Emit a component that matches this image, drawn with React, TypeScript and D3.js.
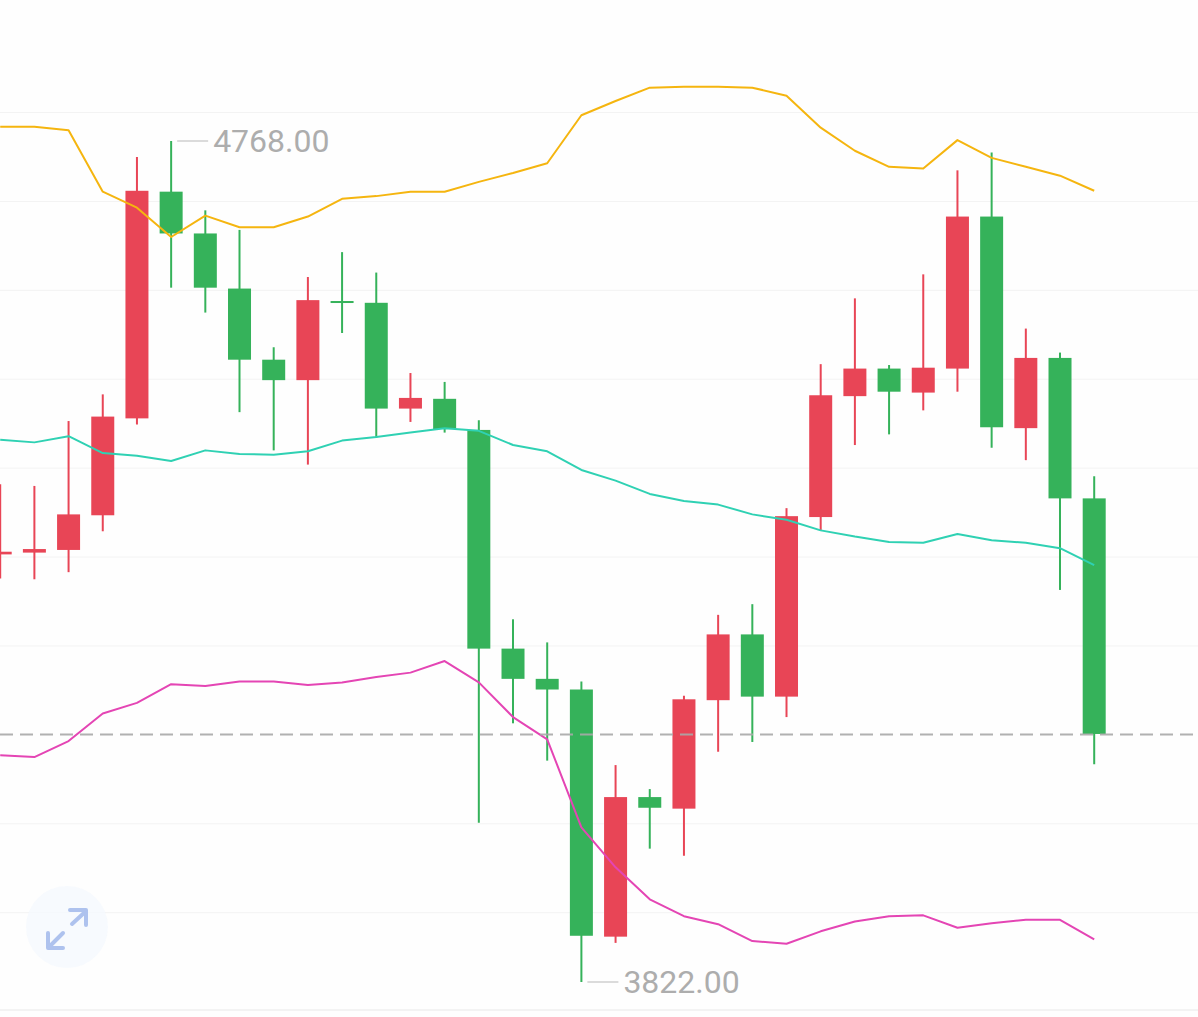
import { useEffect, useRef } from 'react';
import * as d3 from 'd3';

// prices, one entry per candle
const opens = [4303, 4305, 4308, 4347, 4456, 4711, 4664, 4602, 4522, 4499, 4588, 4586, 4467, 4478, 4443, 4197, 4163, 4151, 3873, 4030, 4017, 4139, 4213, 4143, 4345, 4481, 4512, 4485, 4512, 4683, 4445, 4524, 4366];
const closes = [4306, 4309, 4348, 4458, 4712, 4664, 4603, 4522, 4499, 4589, 4586, 4467, 4479, 4444, 4197, 4163, 4151, 3874, 4030, 4018, 4140, 4213, 4143, 4346, 4482, 4512, 4486, 4513, 4683, 4446, 4524, 4366, 4101];
const highs = [4382, 4380, 4453, 4483, 4750, 4768, 4690, 4668, 4536, 4615, 4643, 4620, 4507, 4497, 4454, 4230, 4204, 4160, 4066, 4039, 4144, 4235, 4247, 4355, 4517, 4591, 4516, 4618, 4735, 4755, 4557, 4530, 4391];
const lows = [4276, 4275, 4283, 4329, 4449, 4603, 4575, 4463, 4420, 4404, 4552, 4434, 4452, 4440, 4001, 4113, 4071, 3822, 3866, 3972, 3964, 4081, 4092, 4120, 4330, 4426, 4438, 4465, 4486, 4423, 4409, 4263, 4067];

// bollinger bands
const upperBand = [4784, 4784, 4780, 4711, 4693, 4660, 4684, 4671, 4671, 4683, 4703, 4706, 4711, 4711, 4722, 4732, 4743, 4797, 4813, 4828, 4829, 4829, 4828, 4819, 4783, 4757, 4739, 4737, 4769, 4749, 4739, 4729, 4712];
const midBand = [4432, 4429, 4436, 4417, 4414, 4408, 4420, 4416, 4415, 4419, 4431, 4435, 4440, 4445, 4442, 4426, 4419, 4398, 4386, 4371, 4363, 4359, 4348, 4342, 4330, 4323, 4317, 4316, 4326, 4319, 4316, 4310, 4291];
const lowerBand = [4077, 4075, 4093, 4124, 4136, 4157, 4155, 4160, 4160, 4156, 4159, 4165, 4170, 4183, 4159, 4120, 4095, 3996, 3951, 3915, 3896, 3887, 3868, 3865, 3879, 3890, 3896, 3897, 3883, 3888, 3892, 3892, 3870];

const gridPrices = [4800, 4700, 4600, 4500, 4400, 4300, 4200, 4000, 3900];
const lastPrice = 4100.5;
const maxIndex = 5;
const minIndex = 17;

const WIDTH = 1198;
const HEIGHT = 1017;
const UP = '#e84556';
const DOWN = '#35b25a';
const LABEL = '#adadad';

export default function App() {
  const svgRef = useRef<SVGSVGElement>(null);

  useEffect(() => {
    if (!svgRef.current) return;
    const svg = d3.select(svgRef.current);
    svg.selectAll('*').remove();

    const x = d3.scaleLinear().domain([0, opens.length - 1]).range([0.2, 1094.2]);
    const y = d3.scaleLinear().domain([4768, 3822]).range([141, 982]);
    const candles = d3.range(opens.length);

    // grid
    svg.append('g')
      .selectAll('line')
      .data(gridPrices)
      .enter()
      .append('line')
      .attr('x1', 0)
      .attr('x2', WIDTH)
      .attr('y1', d => y(d))
      .attr('y2', d => y(d))
      .attr('stroke', '#f3f3f3')
      .attr('stroke-width', 1);

    svg.append('line')
      .attr('x1', 0)
      .attr('x2', WIDTH)
      .attr('y1', 1010)
      .attr('y2', 1010)
      .attr('stroke', '#f3f3f3')
      .attr('stroke-width', 2);

    const color = (i: number) => (closes[i] > opens[i] ? UP : DOWN);

    // wicks
    svg.append('g')
      .selectAll('line')
      .data(candles)
      .enter()
      .append('line')
      .attr('x1', i => x(i))
      .attr('x2', i => x(i))
      .attr('y1', i => y(highs[i]))
      .attr('y2', i => y(lows[i]))
      .attr('stroke', color)
      .attr('stroke-width', 2);

    // bodies
    svg.append('g')
      .selectAll('rect')
      .data(candles)
      .enter()
      .append('rect')
      .attr('x', i => x(i) - 11.5)
      .attr('width', 23)
      .attr('y', i => y(Math.max(opens[i], closes[i])))
      .attr('height', i => Math.max(2, Math.abs(y(opens[i]) - y(closes[i]))))
      .attr('fill', color);

    const line = d3.line<number>().x((_, i) => x(i)).y(d => y(d));
    const bands: [number[], string][] = [
      [upperBand, '#f5b50f'],
      [midBand, '#2fd1b3'],
      [lowerBand, '#e445b4'],
    ];
    bands.forEach(([values, stroke]) => {
      svg.append('path')
        .attr('d', line(values))
        .attr('fill', 'none')
        .attr('stroke', stroke)
        .attr('stroke-width', 2)
        .attr('stroke-linejoin', 'round');
    });

    // last price
    svg.append('line')
      .attr('x1', 0)
      .attr('x2', WIDTH)
      .attr('y1', y(lastPrice))
      .attr('y2', y(lastPrice))
      .attr('stroke', '#a9a9a9')
      .attr('stroke-opacity', 0.9)
      .attr('stroke-width', 2)
      .attr('stroke-dasharray', '13 7');

    // high / low markers
    [[maxIndex, highs[maxIndex]], [minIndex, lows[minIndex]]].forEach(([i, price]) => {
      svg.append('line')
        .attr('x1', x(i) + 6)
        .attr('x2', x(i) + 37)
        .attr('y1', y(price))
        .attr('y2', y(price))
        .attr('stroke', '#cfcfcf')
        .attr('stroke-width', 1.5);
      svg.append('text')
        .attr('x', x(i) + 42)
        .attr('y', y(price))
        .attr('dy', '0.35em')
        .attr('fill', LABEL)
        .style('font-family', 'Roboto, sans-serif')
        .style('font-size', '32px')
        .style('font-weight', 400)
        .text(price.toFixed(2));
    });

    // expand button
    const btn = svg.append('g').attr('transform', 'translate(67,927)');
    btn.append('circle').attr('r', 41).attr('fill', '#f5f9fe').attr('fill-opacity', 0.8);
    btn.append('path')
      .attr('d', 'M5 -3 L18 -15 M3 -17 L19 -17 L19 -2 M-4 6 L-18 20 M-19 6 L-19 21 L-4 21')
      .attr('fill', 'none')
      .attr('stroke', '#aec2ee')
      .attr('stroke-width', 4)
      .attr('stroke-linecap', 'round')
      .attr('stroke-linejoin', 'round');
  }, []);

  return (
    <svg
      ref={svgRef}
      width={WIDTH}
      height={HEIGHT}
      style={{ position: 'absolute', left: 0, top: 0, display: 'block', background: '#fefefe' }}
    />
  );
}
